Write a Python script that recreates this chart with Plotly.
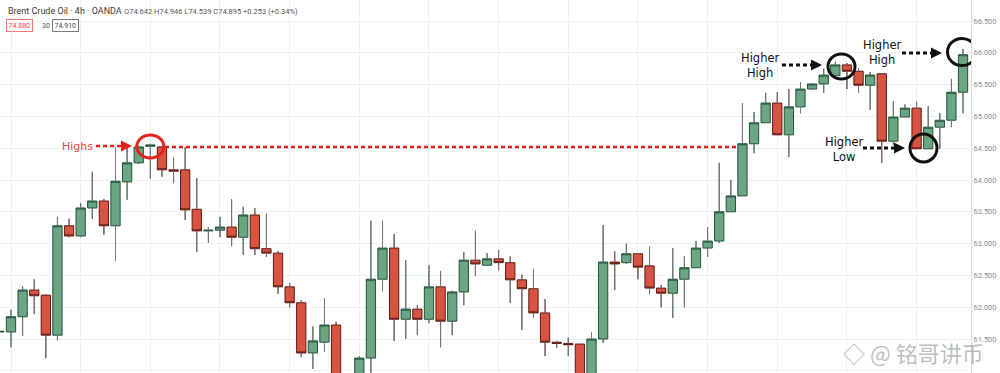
import plotly.graph_objects as go

# ---------------- data (Brent Crude Oil, 4h candles) ----------------
opens = [61.61, 61.61, 61.85, 62.27, 62.19, 61.56, 63.28, 63.12, 63.56, 63.67,
         63.28, 63.97, 64.27, 64.53, 64.52, 64.16, 64.16, 63.54, 63.20, 63.21,
         63.26, 63.10, 63.45, 62.92, 62.85, 62.32, 62.07, 61.28, 61.45, 61.72,
         60.85, 60.70, 61.20, 62.44, 62.93, 61.81, 61.97, 61.81, 62.32, 61.78,
         62.24, 62.74, 62.66, 62.76, 62.70, 62.43, 62.29, 61.91, 61.45, 61.43,
         61.42, 60.85, 61.50, 62.71, 62.70, 62.84, 62.65, 62.30, 62.22, 62.44,
         62.62, 62.93, 63.04, 63.50, 63.75, 64.57, 64.90, 65.21, 64.71, 65.15,
         65.43, 65.51, 65.64, 65.81, 65.71, 65.49, 65.67, 64.61, 64.99, 65.13,
         64.49, 64.83, 64.94, 65.38]
highs = [61.65, 61.96, 62.33, 62.44, 62.20, 63.42, 63.39, 63.64, 64.13, 63.70,
         64.52, 64.53, 64.53, 64.57, 64.53, 64.35, 64.52, 64.03, 63.26, 63.42,
         63.70, 63.58, 63.56, 63.47, 62.88, 62.38, 62.11, 61.70, 62.14, 61.77,
         60.92, 61.23, 63.36, 63.36, 63.15, 62.74, 62.03, 62.66, 62.57, 62.26,
         62.87, 63.20, 62.85, 62.90, 62.80, 62.51, 62.60, 62.13, 61.47, 61.52,
         61.42, 61.61, 63.29, 62.88, 63.00, 62.85, 62.95, 62.35, 62.93, 62.80,
         63.04, 63.26, 64.27, 64.00, 65.21, 65.07, 65.37, 65.38, 65.43, 65.54,
         65.52, 65.75, 65.86, 65.84, 65.76, 65.70, 65.68, 65.24, 65.19, 65.23,
         65.16, 65.05, 65.59, 66.06]
lows = [61.59, 61.37, 61.55, 61.89, 61.20, 61.48, 63.10, 63.10, 63.39, 63.14,
        62.73, 63.69, 64.25, 64.02, 64.05, 63.95, 63.37, 62.87, 63.01, 63.10,
        62.96, 62.82, 62.82, 62.79, 62.21, 62.00, 61.22, 61.03, 61.30, 60.70,
        60.50, 60.60, 60.90, 62.25, 61.47, 61.50, 61.56, 61.75, 61.37, 61.56,
        62.03, 62.49, 62.66, 62.58, 62.07, 61.64, 61.83, 61.23, 61.36, 61.23,
        60.60, 60.70, 61.44, 62.27, 62.68, 62.44, 62.21, 62.00, 61.83, 62.00,
        62.62, 62.79, 63.01, 63.50, 63.75, 64.42, 64.90, 64.71, 64.36, 65.05,
        65.42, 65.37, 65.64, 65.43, 65.37, 65.10, 64.27, 64.55, 64.99, 64.49,
        64.49, 64.49, 64.83, 65.05]
closes = [61.62, 61.85, 62.27, 62.18, 61.56, 63.28, 63.12, 63.56, 63.67, 63.28,
          63.98, 64.27, 64.52, 64.55, 64.16, 64.14, 63.53, 63.20, 63.21, 63.26,
          63.10, 63.45, 62.92, 62.85, 62.32, 62.07, 61.28, 61.47, 61.72, 60.85,
          60.70, 61.20, 62.44, 62.93, 61.81, 61.97, 61.81, 62.32, 61.78, 62.24,
          62.74, 62.68, 62.76, 62.70, 62.43, 62.29, 61.91, 61.45, 61.43, 61.41,
          60.80, 61.50, 62.71, 62.68, 62.84, 62.63, 62.30, 62.22, 62.44, 62.62,
          62.93, 63.04, 63.50, 63.75, 64.57, 64.90, 65.21, 64.71, 65.15, 65.43,
          65.51, 65.65, 65.81, 65.71, 65.49, 65.65, 64.61, 64.99, 65.13, 64.49,
          64.83, 64.94, 65.38, 65.97]
candle_idx = list(range(len(opens)))

price_ticks = [61.0, 61.5, 62.0, 62.5, 63.0, 63.5, 64.0, 64.5, 65.0, 65.5, 66.0, 66.5]
time_grid = list(range(1, 84, 6))
highs_level = 64.52

header_title = "Brent Crude Oil · 4h · OANDA"
header_values = "O74.642 H74.946 L74.539 C74.895 +0.253 (+0.34%)"
bid_price, spread, ask_price = "74.880", "30", "74.910"
watermark = "◇ @ 铭哥讲币"

# ---------------- styling ----------------
UP_FILL, UP_LINE = "#6ba583", "#225437"
DN_FILL, DN_LINE = "#d75442", "#5b1a13"
WICK = "#7a7a7c"
GRID = "#eef0f3"
RED = "#e3231c"
BLACK = "#111111"

# pixel helpers (plot area is 971 x 373 px)
PLOT_W, PLOT_H = 971, 373
CANDLE_PX, X0_PX = 11.61, -0.6
PX_PER_UNIT, REF_PX, REF_P = 63.6, 21.0, 66.5


def X(px):
    return (px - X0_PX) / CANDLE_PX


def Y(py):
    return REF_P - (py - REF_PX) / PX_PER_UNIT


def PX(px):
    return px / PLOT_W


def PY(py):
    return 1 - py / PLOT_H


fig = go.Figure()
fig.add_trace(go.Candlestick(
    x=candle_idx, open=opens, high=highs, low=lows, close=closes,
    increasing=dict(fillcolor=UP_FILL, line=dict(color=UP_LINE, width=1)),
    decreasing=dict(fillcolor=DN_FILL, line=dict(color=DN_LINE, width=1)),
    whiskerwidth=0, hoverinfo="skip", showlegend=False))

# grey wicks drawn outside the bodies
wx, wy = [], []
for k, (o, h, l, c) in enumerate(zip(opens, highs, lows, closes)):
    top, bot = max(o, c), min(o, c)
    wx += [k, k, None, k, k, None]
    wy += [h, top, None, bot, l, None]
fig.add_trace(go.Scatter(x=wx, y=wy, mode="lines", line=dict(color=WICK, width=1),
                         hoverinfo="skip", showlegend=False))

shapes = []
annotations = []


def dotted_arrow(x_start_px, x_tip_px, y_px, color, width):
    shapes.append(dict(type="line", xref="x", yref="y", x0=X(x_start_px), x1=X(x_tip_px - 7),
                       y0=Y(y_px), y1=Y(y_px), line=dict(color=color, width=width, dash="4px,3px")))
    annotations.append(dict(x=X(x_tip_px), y=Y(y_px), xref="x", yref="y", text="", showarrow=True,
                            ax=-10, ay=0, arrowhead=2, arrowsize=1.1, arrowwidth=2, arrowcolor=color,
                            standoff=0))


def ring(cx, cy, rx, ry, color):
    shapes.append(dict(type="circle", xref="x", yref="y", xsizemode="pixel", ysizemode="pixel",
                       xanchor=cx, yanchor=cy, x0=-rx, x1=rx, y0=-ry, y1=ry,
                       line=dict(color=color, width=3)))


def label(text, cx_px, cy_px, color, size=11.5):
    annotations.append(dict(x=X(cx_px), y=Y(cy_px), xref="x", yref="y", text=text, showarrow=False,
                            font=dict(family="DejaVu Sans", size=size, color=color),
                            xanchor="center", yanchor="middle", align="center"))


# Highs level
shapes.append(dict(type="line", xref="x", yref="y", x0=X(165), x1=X(737), y0=highs_level, y1=highs_level,
                   line=dict(color=RED, width=2.5, dash="4px,3px")))
label("Highs", 77, 146, "#e6453b", 11)
dotted_arrow(96, 132, 146, RED, 2.5)
ring(13, Y(146.5), 13.5, 11.5, RED)

# Higher High #1
label("Higher<br>High", 760, 65, BLACK)
dotted_arrow(782, 822, 65, BLACK, 3)
ring(X(841.5), Y(66.5), 13.5, 12.5, BLACK)

# Higher High #2
label("Higher<br>High", 882, 52, BLACK)
dotted_arrow(902, 942, 53, BLACK, 3)
ring(X(962), Y(52), 14.5, 13.5, BLACK)

# Higher Low
label("Higher<br>Low", 844, 149, BLACK)
dotted_arrow(863, 905, 148, BLACK, 3)
ring(X(923.5), Y(148), 13.5, 14, BLACK)

# header
annotations.append(dict(x=PX(6), y=PY(11), xref="paper", yref="paper", text=header_title, showarrow=False,
                        xanchor="left", yanchor="middle", font=dict(family="Roboto", size=9, color="#3a3a3a")))
annotations.append(dict(x=PX(122), y=PY(11), xref="paper", yref="paper", text=header_values, showarrow=False,
                        xanchor="left", yanchor="middle", font=dict(family="Roboto", size=7.5, color="#555555")))
annotations.append(dict(x=PX(6), y=PY(25.5), xref="paper", yref="paper", text=bid_price, showarrow=False,
                        xanchor="left", yanchor="middle", font=dict(family="Roboto", size=7, color="#e0443a"),
                        bordercolor="#ea7b72", borderwidth=1, borderpad=1.5, bgcolor="white"))
annotations.append(dict(x=PX(40), y=PY(25.5), xref="paper", yref="paper", text=spread, showarrow=False,
                        xanchor="left", yanchor="middle", font=dict(family="Roboto", size=7, color="#555555")))
annotations.append(dict(x=PX(52), y=PY(25.5), xref="paper", yref="paper", text=ask_price, showarrow=False,
                        xanchor="left", yanchor="middle", font=dict(family="Roboto", size=7, color="#444444"),
                        bordercolor="#777777", borderwidth=1, borderpad=1.5, bgcolor="white"))
# watermark
annotations.append(dict(x=PX(913), y=PY(352), xref="paper", yref="paper", text=watermark, showarrow=False,
                        xanchor="center", yanchor="middle",
                        font=dict(family="Noto Sans CJK SC", size=22, color="rgba(125,125,125,0.5)")))

fig.update_layout(
    width=1000, height=373,
    margin=dict(l=0, r=29, t=0, b=0, pad=0),
    paper_bgcolor="white", plot_bgcolor="white",
    boxgap=0.2, boxgroupgap=0.0,
    showlegend=False,
    shapes=shapes, annotations=annotations,
    xaxis=dict(range=[X(0), X(PLOT_W)], tickvals=time_grid, showticklabels=False, ticks="",
               showgrid=True, gridcolor=GRID, gridwidth=1, zeroline=False, showline=False,
               rangeslider=dict(visible=False), fixedrange=True),
    yaxis=dict(side="right", range=[Y(PLOT_H), Y(0)], tickvals=price_ticks, tickformat=".3f",
               tickfont=dict(family="Roboto", size=7.5, color="#8c8c8c"), ticks="",
               showgrid=True, gridcolor=GRID, gridwidth=1, zeroline=False,
               showline=True, linecolor="#d9d9d9", linewidth=1, fixedrange=True),
)

fig.write_html("out.html", config={"displayModeBar": False, "staticPlot": True},
               post_script="document.body.style.margin='0px';document.body.style.overflow='hidden';")
